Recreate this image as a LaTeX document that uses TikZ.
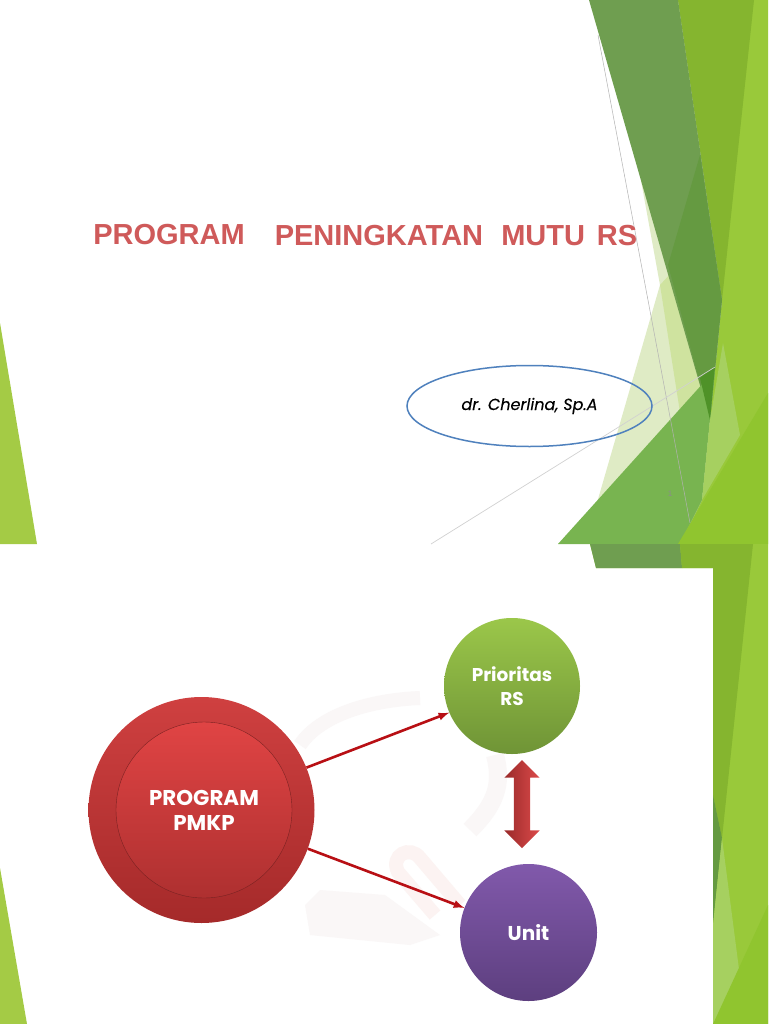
\documentclass[tikz,border=0pt]{standalone}
\usepackage{fontspec}
\setmainfont{Liberation Sans}
\newfontfamily\roundfont{Poppins}
\newfontfamily\thinroundfont[FakeBold=0.25]{Poppins}
\usetikzlibrary{shapes.geometric,shapes.arrows}
\definecolor{leafdark}{HTML}{6F9E50}
\definecolor{leafdeep}{HTML}{659A41}
\definecolor{leafcore}{HTML}{4F9228}
\definecolor{leafmid}{HTML}{85B52F}
\definecolor{leaflight}{HTML}{99C93A}
\definecolor{leafbright}{HTML}{90C52F}
\definecolor{leafpale}{HTML}{DFEBC5}
\definecolor{leafsoft}{HTML}{CFE39F}
\definecolor{leafgrass}{HTML}{78B450}
\definecolor{leafwash}{HTML}{A6D060}
\definecolor{leafedge}{HTML}{A4CB45}
\definecolor{titlered}{HTML}{CF5A5A}
\definecolor{linkred}{HTML}{B80F14}
\definecolor{ringblue}{HTML}{4F81BD}
\definecolor{ghost}{HTML}{FAF7F7}
\definecolor{ghostpink}{HTML}{FCF3F2}
\definecolor{ringtop}{HTML}{CF4040}
\definecolor{ringlow}{HTML}{A52A2A}
\definecolor{progtop}{HTML}{E04444}
\definecolor{proglow}{HTML}{AE3030}
\definecolor{priortop}{HTML}{9BC74A}
\definecolor{priorlow}{HTML}{6F9436}
\definecolor{unittop}{HTML}{8159AB}
\definecolor{unitlow}{HTML}{5D3F7F}
\definecolor{swaptop}{HTML}{DC4A4A}
\definecolor{swaplow}{HTML}{9A2A2A}
\tikzset{
  title/.style={text=titlered,font=\fontsize{29}{34}\bfseries},
  bubble/.style={circle,inner sep=0pt,text=white,align=center,font=\roundfont\fontsize{20}{25}\selectfont\bfseries},
  link/.style={draw=linkred,line width=2.6pt,-latex},
}
\begin{document}
\begin{tikzpicture}[x=1pt,y=-1pt]
  \useasboundingbox (0,0) rectangle (768,1024);
  \fill[white] (0,0) rectangle (768,1024);
  % first slide
  \fill[leaflight] (678,0) -- (768,0) -- (768,544) -- (680,544) -- (702,500) -- (722,300) -- cycle;
  \fill[leafmid] (678,0) -- (754,0) -- (722,300) -- cycle;
  \fill[leafpale] (640,175) -- (672,280) -- (685,430) -- (592,520) -- (660,285) -- cycle;
  \fill[leafsoft] (660,285) -- (672,272) -- (705,400) -- (682,425) -- cycle;
  \fill[leafdark] (589,0) -- (678,0) -- (722,300) -- (710,420) -- cycle;
  \fill[leafdeep] (700,155) -- (722,300) -- (710,420) -- (668,265) -- cycle;
  \fill[leafgrass] (558,544) -- (715,370) -- (710,420) -- (702,500) -- (680,544) -- cycle;
  \fill[leafcore] (700,378) -- (715,366) -- (710,420) -- cycle;
  \fill[leafwash] (723,343) -- (740,435) -- (702,500) -- (710,420) -- cycle;
  \fill[leafbright] (678,544) -- (768,393) -- (768,544) -- cycle;
  \fill[leafedge] (0,323) -- (37,544) -- (0,544) -- cycle;
  \draw[black!30,line width=.5pt] (598,35) -- (690,523);
  \draw[black!18,line width=.7pt] (431,544) -- (715,367);
  \node[text=black!45,font=\fontsize{8}{10}\selectfont] (pagenum) at (670,494) {1};
  \node[title] (progword) at (169,235) {PROGRAM};
  \node[title] (mutuword) at (456,236) {PENINGKATAN\hspace{.35em} MUTU\hspace{.13em} RS};
  \node[draw=ringblue,line width=1.5pt,ellipse,minimum width=245pt,minimum height=81pt,inner sep=0pt,
    font=\thinroundfont\fontsize{16}{19}\selectfont\itshape] (doctor) at (529.5,406) {dr. Cherlina, Sp.A\hspace{7pt}};
  % second slide
  \fill[leaflight] (590,544) -- (768,544) -- (768,1024) -- (713,1024) -- (713,568) -- (596,568) -- cycle;
  \fill[leafdark] (590,544) -- (680,544) -- (682,568) -- (596,568) -- cycle;
  \fill[leafmid] (680,544) -- (753,544) -- (722,838) -- (713,795) -- (713,568) -- (682,568) -- cycle;
  \fill[leafdeep] (713,795) -- (722,838) -- (713,925) -- cycle;
  \fill[leafwash] (722,838) -- (740,977) -- (720,1012) -- (713,1024) -- (713,925) -- cycle;
  \fill[leafbright] (713,1024) -- (768,905) -- (768,1024) -- cycle;
  \fill[leafedge] (0,868) -- (27,1024) -- (0,1024) -- cycle;
  % faint mark behind the circles
  \draw[ghost,line width=14pt] (300,745) .. controls (320,715) and (370,700) .. (420,698);
  \draw[ghost,line width=18pt] (495,755) .. controls (503,785) and (495,805) .. (470,830);
  \draw[ghostpink,line width=14pt] (460,905) -- (420,858) .. controls (410,845) and (390,855) .. (398,872) -- (435,915);
  \fill[ghost] (305,905) -- (320,890) -- (385,895) -- (440,935) -- (410,945) -- (310,935) -- cycle;
  \node[bubble,minimum size=226pt,top color=ringtop,bottom color=ringlow] (ringprog) at (201.5,810) {};
  \node[bubble,draw=proglow!70!black,minimum size=176pt,top color=progtop,bottom color=proglow,
    font=\roundfont\fontsize{21.4}{25}\selectfont\bfseries] (prog) at (204,810) {PROGRAM\\PMKP};
  \node[bubble,minimum size=136pt,top color=priortop,bottom color=priorlow,
    font=\roundfont\fontsize{18.5}{24}\selectfont\bfseries] (prior) at (512,686) {Prioritas\\RS};
  \node[bubble,minimum size=137pt,top color=unittop,bottom color=unitlow] (unit) at (528.5,932.5) {Unit};
  \draw[link] (ringprog.22) -- (prior.203);
  \draw[link] (ringprog.-20) -- (unit.159);
  \node[double arrow,rotate=90,minimum height=88pt,minimum width=35pt,inner sep=8pt,double arrow head extend=9.5pt,
    left color=swaplow,right color=swaptop] (swap) at (522,804) {};
\end{tikzpicture}
\end{document}
